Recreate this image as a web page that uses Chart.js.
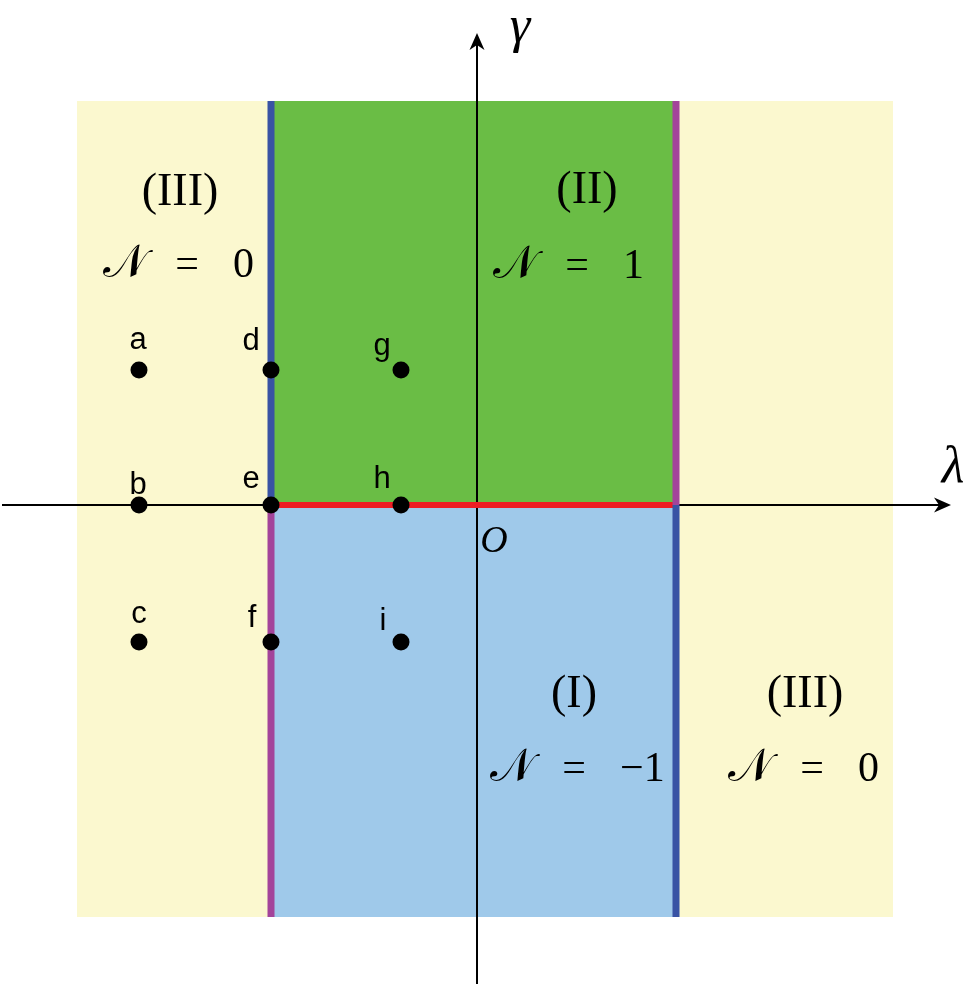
<!DOCTYPE html>
<html lang="en">
<head>
    <meta charset="UTF-8">
    <title>Phase diagram</title>
    <script src="https://cdn.jsdelivr.net/npm/chart.js"></script>
    <style>
        html, body { margin: 0; padding: 0; background: #fff; overflow: hidden; }
        canvas { display: block; }
    </style>
</head>
<body>
    <canvas id="phaseChart" width="979" height="985"></canvas>

    <script>
        // regions (λ from left to right, γ from bottom to top)
        const outerLam = [-2.0, 2.08];
        const outerGam = [-2.06, 2.02];
        const bandLam = [-1.03, 0.995];     // the two transition lines
        const upperGam = [0, 2.02];
        const lowerGam = [-2.06, 0];

        // axes
        const lamAxis = [-2.375, 2.37];
        const gamAxis = [-2.395, 2.36];

        // marked points
        const pointNames = ['a', 'b', 'c', 'd', 'e', 'f', 'g', 'h', 'i'];
        const pointLam = [-1.69, -1.69, -1.69, -1.03, -1.03, -1.03, -0.38, -0.38, -0.38];
        const pointGam = [0.675, 0, -0.685, 0.675, 0, -0.685, 0.675, 0, -0.685];

        // phase names and winding numbers
        const phaseNames = ['(III)', '(II)', '(I)', '(III)'];
        const windingValues = ['0', '1', '\u22121', '0'];

        const yellow = '#FBF8CF';
        const green = '#6ABD45';
        const lightBlue = '#9FC9EA';
        const lineBlue = '#3953A4';
        const magenta = '#A3449A';
        const red = '#ED1C24';

        const rect = (lam, gam, color, order) => ({
            data: [{ x: lam[0], y: gam[1] }, { x: lam[1], y: gam[1] }],
            borderWidth: 0,
            pointRadius: 0,
            backgroundColor: color,
            fill: { value: gam[0] },
            order: order
        });

        const segment = (pts, color, width, order) => ({
            data: pts,
            borderColor: color,
            borderWidth: width,
            pointRadius: 0,
            fill: false,
            order: order
        });

        const datasets = [
            rect(outerLam, outerGam, yellow, 12),
            rect(bandLam, upperGam, green, 11),
            rect(bandLam, lowerGam, lightBlue, 11),
            segment([{ x: lamAxis[0], y: 0 }, { x: lamAxis[1] - 0.06, y: 0 }], '#000', 2, 8),
            segment([{ x: 0, y: gamAxis[0] }, { x: 0, y: gamAxis[1] - 0.06 }], '#000', 2, 8),
            segment([{ x: bandLam[0], y: 0 }, { x: bandLam[1], y: 0 }], red, 6, 6),
            segment([{ x: bandLam[0], y: upperGam[0] }, { x: bandLam[0], y: upperGam[1] }], lineBlue, 7, 5),
            segment([{ x: bandLam[0], y: lowerGam[0] }, { x: bandLam[0], y: lowerGam[1] }], magenta, 7, 5),
            segment([{ x: bandLam[1], y: upperGam[0] }, { x: bandLam[1], y: upperGam[1] }], magenta, 7, 5),
            segment([{ x: bandLam[1], y: lowerGam[0] }, { x: bandLam[1], y: lowerGam[1] }], lineBlue, 7, 5),
            {
                data: pointLam.map((x, i) => ({ x: x, y: pointGam[i] })),
                showLine: false,
                pointRadius: 8.5,
                pointHoverRadius: 8.5,
                pointBackgroundColor: '#000',
                pointBorderWidth: 0,
                order: 1
            }
        ];

        // text placement in data units
        const pointLabelPos = [
            [-1.695, 0.78], [-1.695, 0.055], [-1.69, -0.59],
            [-1.13, 0.775], [-1.13, 0.085], [-1.125, -0.61],
            [-0.475, 0.75], [-0.475, 0.085], [-0.47, -0.625]
        ];
        const phaseNamePos = [[-1.485, 1.5], [0.55, 1.51], [0.485, -1.01], [1.64, -1.01]];
        const windingPos = [[-1.87, 1.14], [0.08, 1.135], [0.065, -1.38], [1.255, -1.38]];

        const textPlugin = {
            id: 'phaseText',
            afterDatasetsDraw(chart) {
                const ctx = chart.ctx;
                const sx = chart.scales.x, sy = chart.scales.y;
                const px = v => sx.getPixelForValue(v);
                const py = v => sy.getPixelForValue(v);
                ctx.save();
                ctx.fillStyle = '#000';

                // arrow heads
                const arrow = (x, y, ang) => {
                    ctx.save();
                    ctx.translate(x, y);
                    ctx.rotate(ang);
                    ctx.beginPath();
                    ctx.moveTo(0, 0);
                    ctx.lineTo(-17, -7.5);
                    ctx.lineTo(-12, 0);
                    ctx.lineTo(-17, 7.5);
                    ctx.closePath();
                    ctx.fill();
                    ctx.restore();
                };
                arrow(px(lamAxis[1]), py(0), 0);
                arrow(px(0), py(gamAxis[1]), -Math.PI / 2);

                // point letters
                ctx.font = '31px "Liberation Sans", Arial, sans-serif';
                ctx.textAlign = 'center';
                ctx.textBaseline = 'alphabetic';
                pointNames.forEach((n, i) => {
                    ctx.fillText(n, px(pointLabelPos[i][0]), py(pointLabelPos[i][1]));
                });

                // phase names
                ctx.font = '46px "Liberation Serif", "Times New Roman", serif';
                phaseNames.forEach((n, i) => {
                    ctx.fillText(n, px(phaseNamePos[i][0]), py(phaseNamePos[i][1]));
                });

                // winding numbers
                windingValues.forEach((v, i) => {
                    const x0 = px(windingPos[i][0]);
                    const y0 = py(windingPos[i][1]);
                    ctx.textAlign = 'left';
                    ctx.font = '46px "Liberation Serif", "DejaVu Serif", serif';
                    ctx.fillText('\u{1D4A9}', x0, y0);
                    ctx.font = '42px "Liberation Serif", "DejaVu Serif", serif';
                    ctx.textAlign = 'center';
                    ctx.fillText('=', x0 + 84, y0);
                    ctx.textAlign = 'left';
                    ctx.fillText(v, x0 + 130, y0);
                });

                // axis names
                ctx.font = 'italic 52px "Liberation Serif", "Times New Roman", serif';
                ctx.textAlign = 'center';
                ctx.fillText('\u03B3', px(0.215), py(2.315));
                ctx.fillText('\u03BB', px(2.38), py(0.115));
                ctx.font = 'italic 38px "Liberation Serif", "Times New Roman", serif';
                ctx.fillText('O', px(0.085), py(-0.235));
                ctx.restore();
            }
        };

        new Chart(document.getElementById('phaseChart'), {
            type: 'line',
            data: { datasets: datasets },
            options: {
                responsive: false,
                animation: false,
                layout: { padding: 0, autoPadding: false },
                plugins: { legend: { display: false }, tooltip: { enabled: false } },
                scales: {
                    x: { type: 'linear', min: -2.385, max: 2.51, display: false },
                    y: { type: 'linear', min: -2.4, max: 2.525, display: false }
                }
            },
            plugins: [textPlugin]
        });
    </script>
</body>
</html>
